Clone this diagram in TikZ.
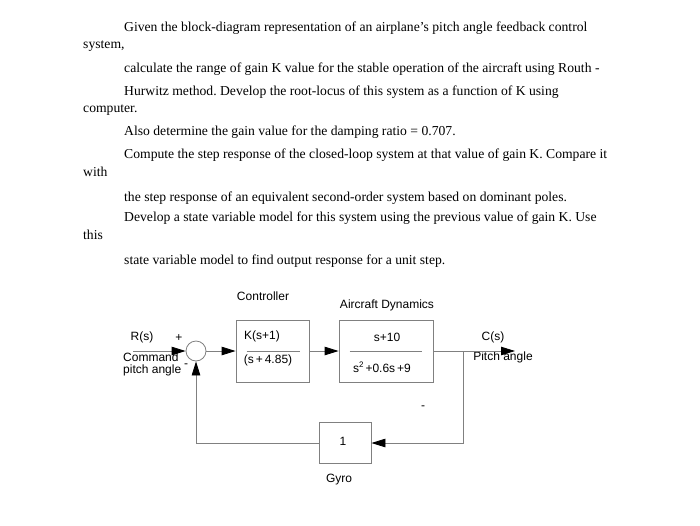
\documentclass[tikz,border=0pt]{standalone}
\usepackage{fontspec}
\setmainfont{Liberation Serif}
\setsansfont{Liberation Sans}
\usetikzlibrary{arrows.meta,positioning}
\frenchspacing

\begin{document}
\begin{tikzpicture}[x=1pt,y=-1pt,
		txt/.style={anchor=base west, inner sep=0pt, font=\fontsize{13.65}{16}\selectfont},
		lbl/.style={inner sep=0pt, font=\sffamily\fontsize{12}{14}\selectfont},
		blk/.style={draw=gray, line width=0.8pt, inner sep=0pt},
		sig/.style={draw=gray, line width=0.8pt},
		arr/.style={sig, -{Triangle[black, length=14pt, width=8.5pt]}},
	]
	\path[use as bounding box] (0,0) rectangle (700,525);
	% problem text
	\node[txt] (t1) at (124,31.5) {Given the block-diagram representation of an airplane’s pitch angle feedback control};
	\node[txt] (t2) at (83,48) {system,};
	\node[txt] (t3) at (124,72.5) {calculate the range of gain K value for the stable operation of the aircraft using Routh -};
	\node[txt] (t4) at (124,95.5) {Hurwitz method. Develop the root-locus of this system as a function of K using};
	\node[txt] (t5) at (83,112) {computer.};
	\node[txt] (t6) at (124,135.5) {Also determine the gain value for the damping ratio = 0.707.};
	\node[txt] (t7) at (124,158.5) {Compute the step response of the closed-loop system at that value of gain K. Compare it};
	\node[txt] (t8) at (83,176.5) {with};
	\node[txt] (t9) at (124,201) {the step response of an equivalent second-order system based on dominant poles.};
	\node[txt] (t10) at (124,221.5) {Develop a state variable model for this system using the previous value of gain K. Use};
	\node[txt] (t11) at (83,239.5) {this};
	\node[txt] (t12) at (124,264) {state variable model to find output response for a unit step.};
	% blocks
	\node[blk, circle, minimum size=20pt] (sum) at (196,351) {};
	\node[blk, minimum width=73pt, minimum height=62pt] (ctrl) at (272.5,351) {};
	\node[blk, minimum width=94pt, minimum height=62pt] (air) at (386,351) {};
	\node[blk, minimum width=52pt, minimum height=41pt] (gyro) at (345,443) {};
	\draw[sig] ([xshift=11pt]ctrl.west) -- ([xshift=-9pt]ctrl.east);
	\draw[sig] ([xshift=11pt]air.west) -- ([xshift=-11pt]air.east);
	\node[lbl] (num1) at (262,336) {K(s+1)};
	\node[lbl] (den1) at (268,360) {(s\,+\,4.85)};
	\node[lbl] (num2) at (387,337) {s+10};
	\node[lbl] (den2) at (382,367) {s\raisebox{5pt}{\fontsize{8}{8}\selectfont 2}\,+0.6s\,+9};
	\node[lbl] (one) at (343,441) {1};
	% labels
	\node[lbl] (ctrlname) at (263,296) {Controller};
	\node[lbl] (airname) at (387,305) {Aircraft Dynamics};
	\node[lbl] (gyroname) at (339,480) {Gyro};
	\node[lbl] (rin) at (142,337) {R(s)};
	\node[lbl] (plus) at (179,338) {+};
	\node[lbl, anchor=west] (cmd) at (123,357) {Command};
	\node[lbl, anchor=west] (pitch) at (123,370) {pitch angle};
	\node[lbl] (minus) at (186,366) {-};
	\node[lbl] (cout) at (493,337) {C(s)};
	\node[lbl] (pout) at (503,357) {Pitch angle};
	\node[lbl] (dash) at (423,408) {-};
	% signals
	\coordinate (in) at (133,351);
	\coordinate (brk) at (463,351);
	\coordinate (out) at (515,351);
	\draw[arr] (in) -- (sum.west);
	\draw[arr] (sum) -- (ctrl);
	\draw[arr] (ctrl) -- (air);
	\draw[arr] (air) -- (out);
	\draw[arr] (brk) |- (gyro.east);
	\draw[arr] (gyro.west) -| (sum.south);
\end{tikzpicture}
\end{document}
